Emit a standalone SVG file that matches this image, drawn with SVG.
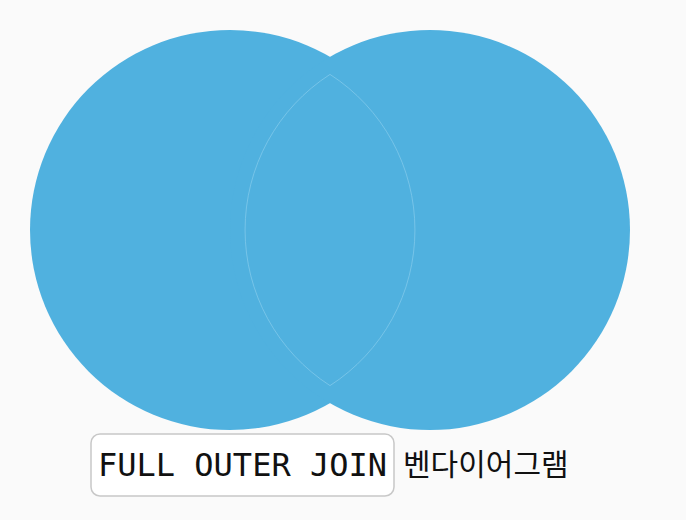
<svg xmlns="http://www.w3.org/2000/svg" width="686" height="520" viewBox="0 0 686 520">
<style>
.c{fill:#50b1df}
.lens{fill:none;stroke:#8fd0ef;stroke-width:1;stroke-opacity:0.6}
.lbl{fill:#ffffff;stroke:#c8c8c8;stroke-width:1.5}
.mono{font-family:"DejaVu Sans Mono","Liberation Mono",monospace;font-size:32px;fill:#111}
.ko{font-family:"Noto Sans CJK KR","Noto Sans",sans-serif;font-size:30px;fill:#111}
</style>
<rect width="686" height="520" fill="#fafafa"/>
<g id="left-circle"><circle class="c" cx="230" cy="230" r="200"/></g>
<g id="right-circle"><circle class="c" cx="430" cy="230" r="200"/></g>
<g id="intersection"><path class="lens" d="M330,74.4 A185,185 0 0 0 330,385.6 A185,185 0 0 0 330,74.4 Z"/></g>
<g id="label">
<rect class="lbl" x="91" y="434" width="303" height="62" rx="9"/>
<text class="mono" x="98" y="476">FULL OUTER JOIN</text>
</g>
<g id="caption"><text class="ko" x="403" y="475">벤다이어그램</text></g>
<g id="connectors"/>
</svg>
